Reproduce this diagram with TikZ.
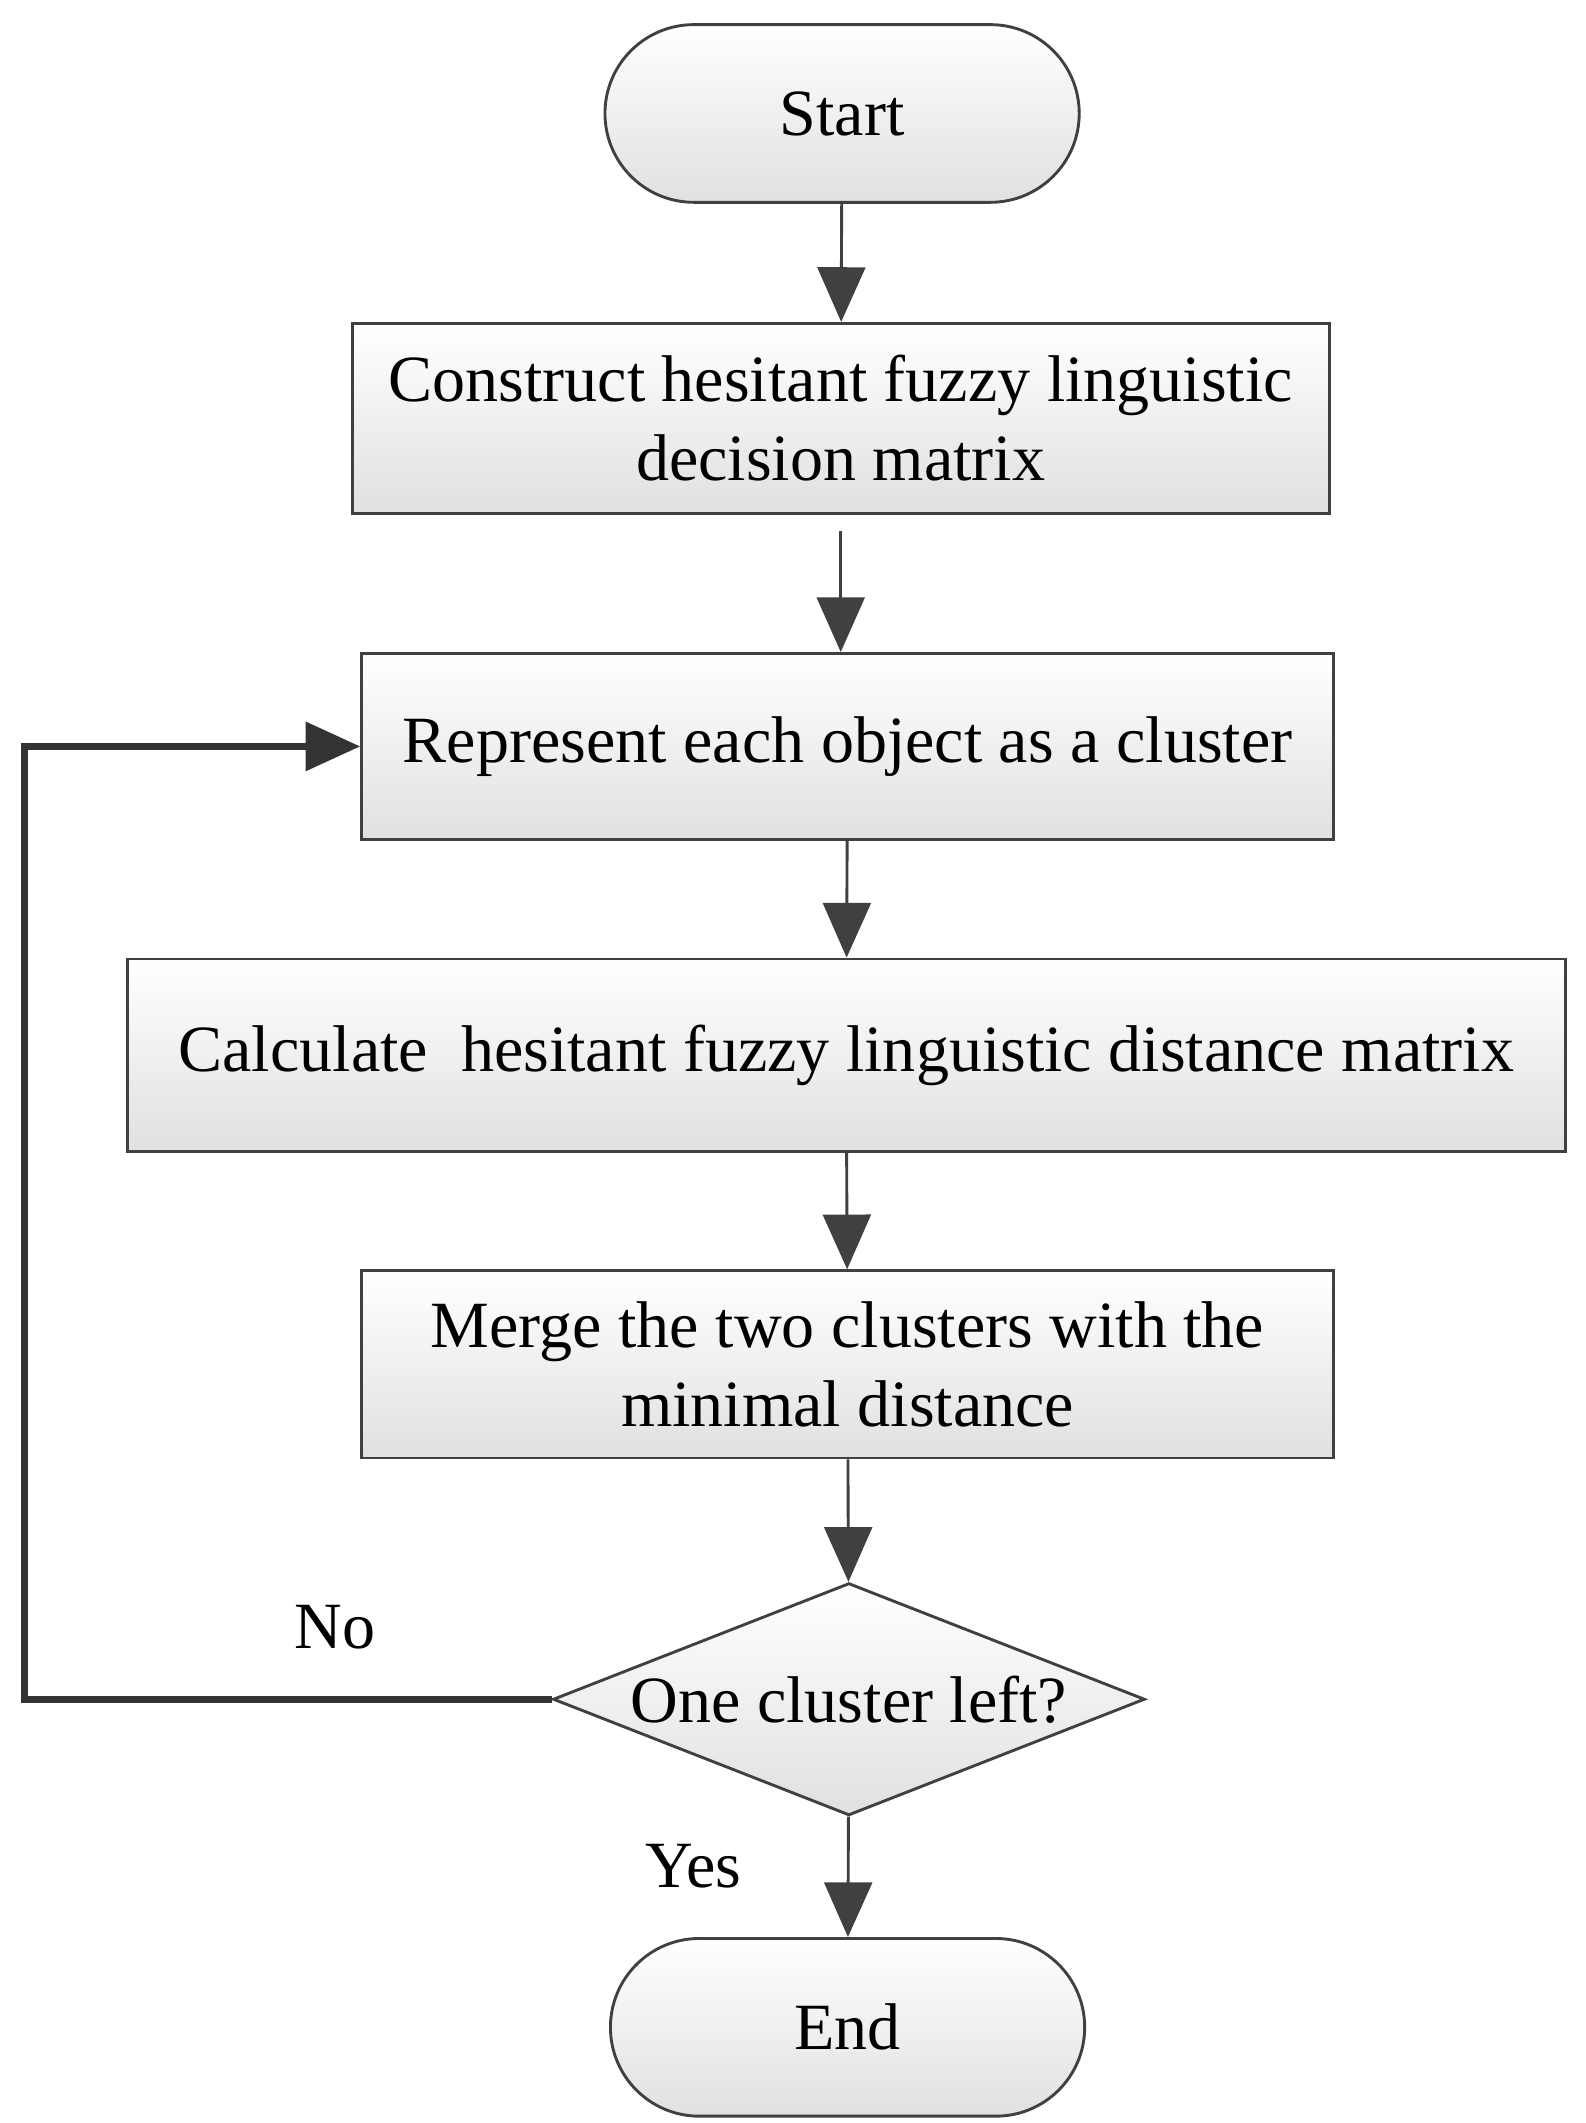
\documentclass[tikz,border=0pt]{standalone}
\usepackage{fontspec}
\setmainfont{Liberation Serif}
\usetikzlibrary{positioning,arrows.meta,shapes.geometric,shapes.misc}

\begin{document}
\begin{tikzpicture}[
    x=0.02cm, y=-0.02cm,
    >={Triangle[length=0.8cm,width=0.7cm]},
    line width=1.2pt,
    font=\fontsize{27.5}{33}\selectfont,
    box/.style={
        draw=black!75,
        align=center,
        top color=white,
        bottom color=black!12,
        inner sep=0pt
    },
    term/.style={box, rounded rectangle, minimum width=6.94cm, minimum height=2.6cm},
    flow/.style={draw=black!75, ->}
]
    \useasboundingbox (0,0) rectangle (1160,1553);

    % Start and processing steps
    \node[term] (start) at (616,83) {Start};
    \node[box, minimum width=14.3cm, minimum height=2.78cm] (build) at (615,306)
        {Construct hesitant fuzzy linguistic\\decision matrix};
    \node[box, minimum width=14.22cm, minimum height=2.72cm] (init) at (620,546)
        {Represent each object as a cluster};
    \node[box, minimum width=21.04cm, minimum height=2.82cm] (dist) at (619,772)
        {Calculate\ \ hesitant fuzzy linguistic distance matrix};
    \node[box, minimum width=14.22cm, minimum height=2.74cm] (merge) at (620,998)
        {Merge the two clusters with the\\minimal distance};

    % Decision and end
    \node[box, diamond, aspect=2.55, minimum width=8.66cm, minimum height=3.4cm] (check) at (621,1243)
        {One cluster left?};
    \node[term] (stop) at (620,1483) {End};

    \coordinate (loopA) at (18,1243);
    \coordinate (loopB) at (18,546);
    \coordinate (gap) at ([yshift=-0.24cm]build.south);

    % Arrows
    \draw[flow] (start) -- (build);
    \draw[flow] (gap) -- (gap |- init.north);
    \draw[flow] (init) -- (dist);
    \draw[flow] (dist) -- (merge);
    \draw[flow] (merge) -- (check);
    \draw[flow] (check) -- (stop);

    % Loop back
    \draw[->, line width=3pt, black!80] (check.west) -- (loopA) -- (loopB) -- (init.west);

    \node at (245,1190) {No};
    \node at (507,1365) {Yes};
\end{tikzpicture}
\end{document}
